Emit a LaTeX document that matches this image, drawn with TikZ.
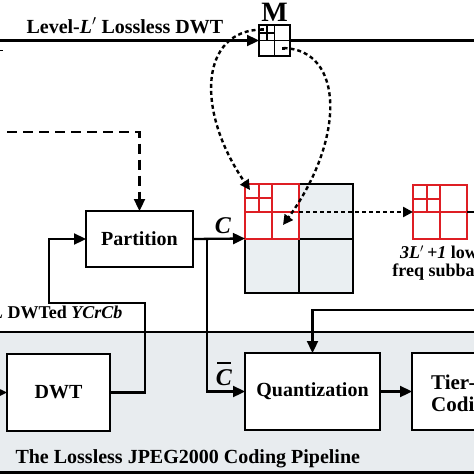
\documentclass[tikz,border=0pt]{standalone}
\usepackage{fontspec}
\setmainfont{Liberation Serif}
\usetikzlibrary{arrows.meta}
\definecolor{bandgray}{RGB}{232,236,239}
\definecolor{quadfill}{RGB}{234,239,242}
\definecolor{gridred}{RGB}{222,30,36}
\begin{document}
\begin{tikzpicture}[x=1pt,y=-1pt,
  every node/.style={font=\fontsize{20}{22}\selectfont\bfseries},
  box/.style={draw, line width=2.4pt, fill=white, inner sep=0pt, outer sep=0pt},
  ln/.style={line width=2.3pt},
  redln/.style={draw=gridred, line width=2pt},
  arr/.style={ln, -{Triangle[length=12pt,width=11pt]}},
  dasharr/.style={ln, dash pattern=on 10pt off 6pt, -{Triangle[length=12pt,width=11pt]}},
  dotarr/.style={line width=2.4pt, dash pattern=on 4pt off 3pt, -{Triangle[length=10pt,width=10pt]}},
  smalltxt/.style={font=\fontsize{18}{18.5}\selectfont\bfseries},
  gridnode/.style={inner sep=0pt, outer sep=0pt}
]
\clip (0,0) rectangle (474,474);
\fill[white] (0,0) rectangle (474,474);
% bottom band
\fill[bandgray] (0,332) rectangle (474,474);
\draw[ln] (0,332) -- (474,332);
\draw[line width=3.5pt] (0,473) -- (474,473);
\draw[line width=1pt] (0,50) -- (3,50);

% top label and line
\node[anchor=base west] (lvl) at (23,33) {Level-\textit{L}$'$ Lossless DWT};
\node[font=\fontsize{28}{30}\selectfont\bfseries, anchor=base] (mlabel) at (274.5,21) {M};
\node[gridnode, draw, line width=2pt, minimum width=31pt, minimum height=31pt] (mg) at (274.5,40.5) {};
\draw[line width=1.8pt] (274.5,25) -- (274.5,56) (259,40.5) -- (290,40.5)
  (266.75,25) -- (266.75,40.5) (259,32.75) -- (274.5,32.75);
\coordinate (tl) at (0,40.5);
\coordinate (tr) at (474,40.5);
\draw[arr] (tl) -- (mg.west);
\draw[ln] (mg.east) -- (tr);
\fill (261,28) rectangle (264,31);
\fill (282,46.5) rectangle (285,49.5);

% boxes
\node[box, minimum width=107pt, minimum height=56pt] (part) at (139.5,239) {Partition};
\node[box, minimum width=103pt, minimum height=77pt] (dwt) at (58.5,392.5) {DWT};
\node[box, minimum width=135pt, minimum height=77pt] (quant) at (312.5,391.5) {Quantization};
\node[box, minimum width=120pt, minimum height=77pt, anchor=west] (tier) at (412,391.5) {};
\node[anchor=west, align=left, inner sep=0pt, font=\fontsize{21}{22}\selectfont\bfseries] (tiertxt) at (431,396) {Tier-1\\Coding};

% dashed input to partition
\coordinate (d0) at (7,132);
\draw[dasharr] (d0) -| (part.north);

% DWT -> Partition
\coordinate (c1) at (145,303);
\coordinate (c2) at (49,239);
\coordinate (lin) at (0,392.5);
\draw[arr] (lin) -- (dwt.west);
\draw[arr] (dwt.east) -| (c1) -| (c2) -- (part.west);
\node[smalltxt, anchor=base east] (ylabel) at (126,318) {Level-\textit{L} DWTed \textit{YCrCb}};

% big grid
\node[gridnode, minimum width=108pt, minimum height=109pt] (big) at (299,238.5) {};
\fill[quadfill] (299,184) rectangle (353,239);
\fill[quadfill] (245,239) rectangle (353,293);
\draw[ln] (299,184) -- (353,184) -- (353,293) -- (245,293) -- (245,239) -- (353,239);
\draw[ln] (299,239) -- (299,293);
\draw[redln] (245,184) rectangle (299,239);
\draw[redln] (272,184) -- (272,239) (245,212) -- (299,212)
  (258.5,184) -- (258.5,212) (245,198) -- (272,198);

% Partition -> C, branch -> Quantization
\draw[arr] (part.east) -- (big.west);
\coordinate (br) at (207,239);
\draw[arr] (br) |- (quant.west);
\node[font=\fontsize{24}{26}\selectfont\bfseries\itshape, anchor=base] (clab) at (223,233) {C};
\node[font=\fontsize{24}{26}\selectfont\bfseries\itshape, anchor=base] (cbar) at (224,385) {C};
\draw[line width=1.6pt] (217,363) -- (231,363);

% top-right input to Quantization
\coordinate (q1) at (474,310);
\draw[arr] (q1) -| (quant.north);
\draw[arr] (quant.east) -- (tier.west);

% right grid
\node[gridnode, minimum width=54pt, minimum height=54pt] (rg) at (440,212) {};
\draw[redln] (413,185) rectangle (467,239);
\draw[redln] (440,185) -- (440,239) (413,212) -- (467,212)
  (426.5,185) -- (426.5,212) (413,198.5) -- (440,198.5);
\coordinate (bq) at (299,212);
\coordinate (rout) at (474,212);
\draw[dotarr] (bq) -- (rg.west);
\draw[ln] (rg.east) -- (rout);
\node[smalltxt, align=center] (sub) at (447,263) {\textit{3L}$'$\,\textit{+1} lower\\freq subbands};

% dotted curves from M
\coordinate (ms1) at (262.5,29.5);
\coordinate (ms2) at (283.5,48);
\coordinate (t1) at (250,190);
\coordinate (t2) at (283,225);
\draw[dotarr] (ms1) .. controls (200,30) and (195,110) .. (t1);
\draw[dotarr] (ms2) .. controls (345,50) and (345,140) .. (t2);

% pipeline label
\node[anchor=base west] (pipe) at (12,463) {The Lossless JPEG2000 Coding Pipeline};
\end{tikzpicture}
\end{document}
